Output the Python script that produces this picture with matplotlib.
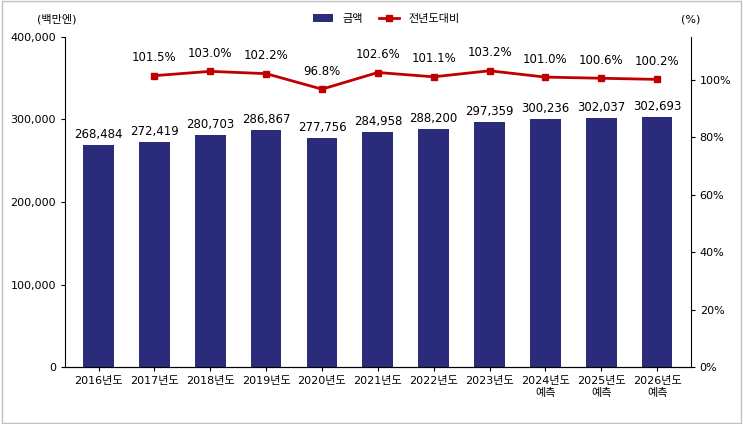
import matplotlib
matplotlib.use("Agg")
import matplotlib.pyplot as plt
from matplotlib.patches import Rectangle

plt.rcParams["font.family"] = ["DejaVu Sans", "Noto Sans CJK JP", "Noto Sans CJK KR", "Noto Sans CJK SC"]

years = ["2016년도", "2017년도", "2018년도", "2019년도", "2020년도", "2021년도",
         "2022년도", "2023년도", "2024년도\n예측", "2025년도\n예측", "2026년도\n예측"]
amounts = [268484, 272419, 280703, 286867, 277756, 284958, 288200, 297359, 300236, 302037, 302693]
yoy = [None, 101.5, 103.0, 102.2, 96.8, 102.6, 101.1, 103.2, 101.0, 100.6, 100.2]

NAVY = "#2B2B7B"
RED = "#C00000"

fig = plt.figure(figsize=(7.43, 4.24), dpi=100)
fig.patches.append(Rectangle((0.003, 0.003), 0.994, 0.994, transform=fig.transFigure,
                             fill=False, edgecolor="#BFBFBF", linewidth=1))
ax = fig.add_axes([0.0875, 0.134, 0.842, 0.779])
x = list(range(len(years)))
ax.bar(x, amounts, width=0.55, color=NAVY, label="금액")
ax.set_ylim(0, 400000)
ax.set_xlim(-0.6, len(years) - 0.4)
ax.set_yticks(range(0, 400001, 100000))
ax.set_yticklabels([f"{v:,}" for v in range(0, 400001, 100000)], fontsize=8)
ax.set_xticks(x)
ax.set_xticklabels(years, fontsize=8)
ax.tick_params(length=3)
for xi, v in zip(x, amounts):
    ax.text(xi, v + 5000, f"{v:,}", ha="center", va="bottom", fontsize=8.5)
for s in ["top", "right"]:
    ax.spines[s].set_visible(False)

ax2 = ax.twinx()
xs = [xi for xi, v in zip(x, yoy) if v is not None]
ys = [v for v in yoy if v is not None]
ax2.plot(xs, ys, color=RED, marker="s", markersize=5, linewidth=2, label="전년도대비")
ax2.set_ylim(0, 115)
ax2.set_yticks(range(0, 101, 20))
ax2.set_yticklabels([f"{v}%" for v in range(0, 101, 20)], fontsize=8)
ax2.tick_params(length=3)
for xi, v in zip(xs, ys):
    ax2.text(xi, v + 4, f"{v:.1f}%", ha="center", va="bottom", fontsize=8.5)
ax2.spines["top"].set_visible(False)
ax2.spines["left"].set_visible(False)

fig.text(0.05, 0.955, "(백만엔)", fontsize=8, ha="left", va="center")
fig.text(0.93, 0.955, "(%)", fontsize=8, ha="center", va="center")

h1, l1 = ax.get_legend_handles_labels()
h2, l2 = ax2.get_legend_handles_labels()
fig.legend(h1 + h2, l1 + l2, loc="center", bbox_to_anchor=(0.52, 0.955), ncol=2,
           frameon=False, fontsize=8, handlelength=1.8, columnspacing=1.5)

fig.savefig("out.png", dpi=100)
